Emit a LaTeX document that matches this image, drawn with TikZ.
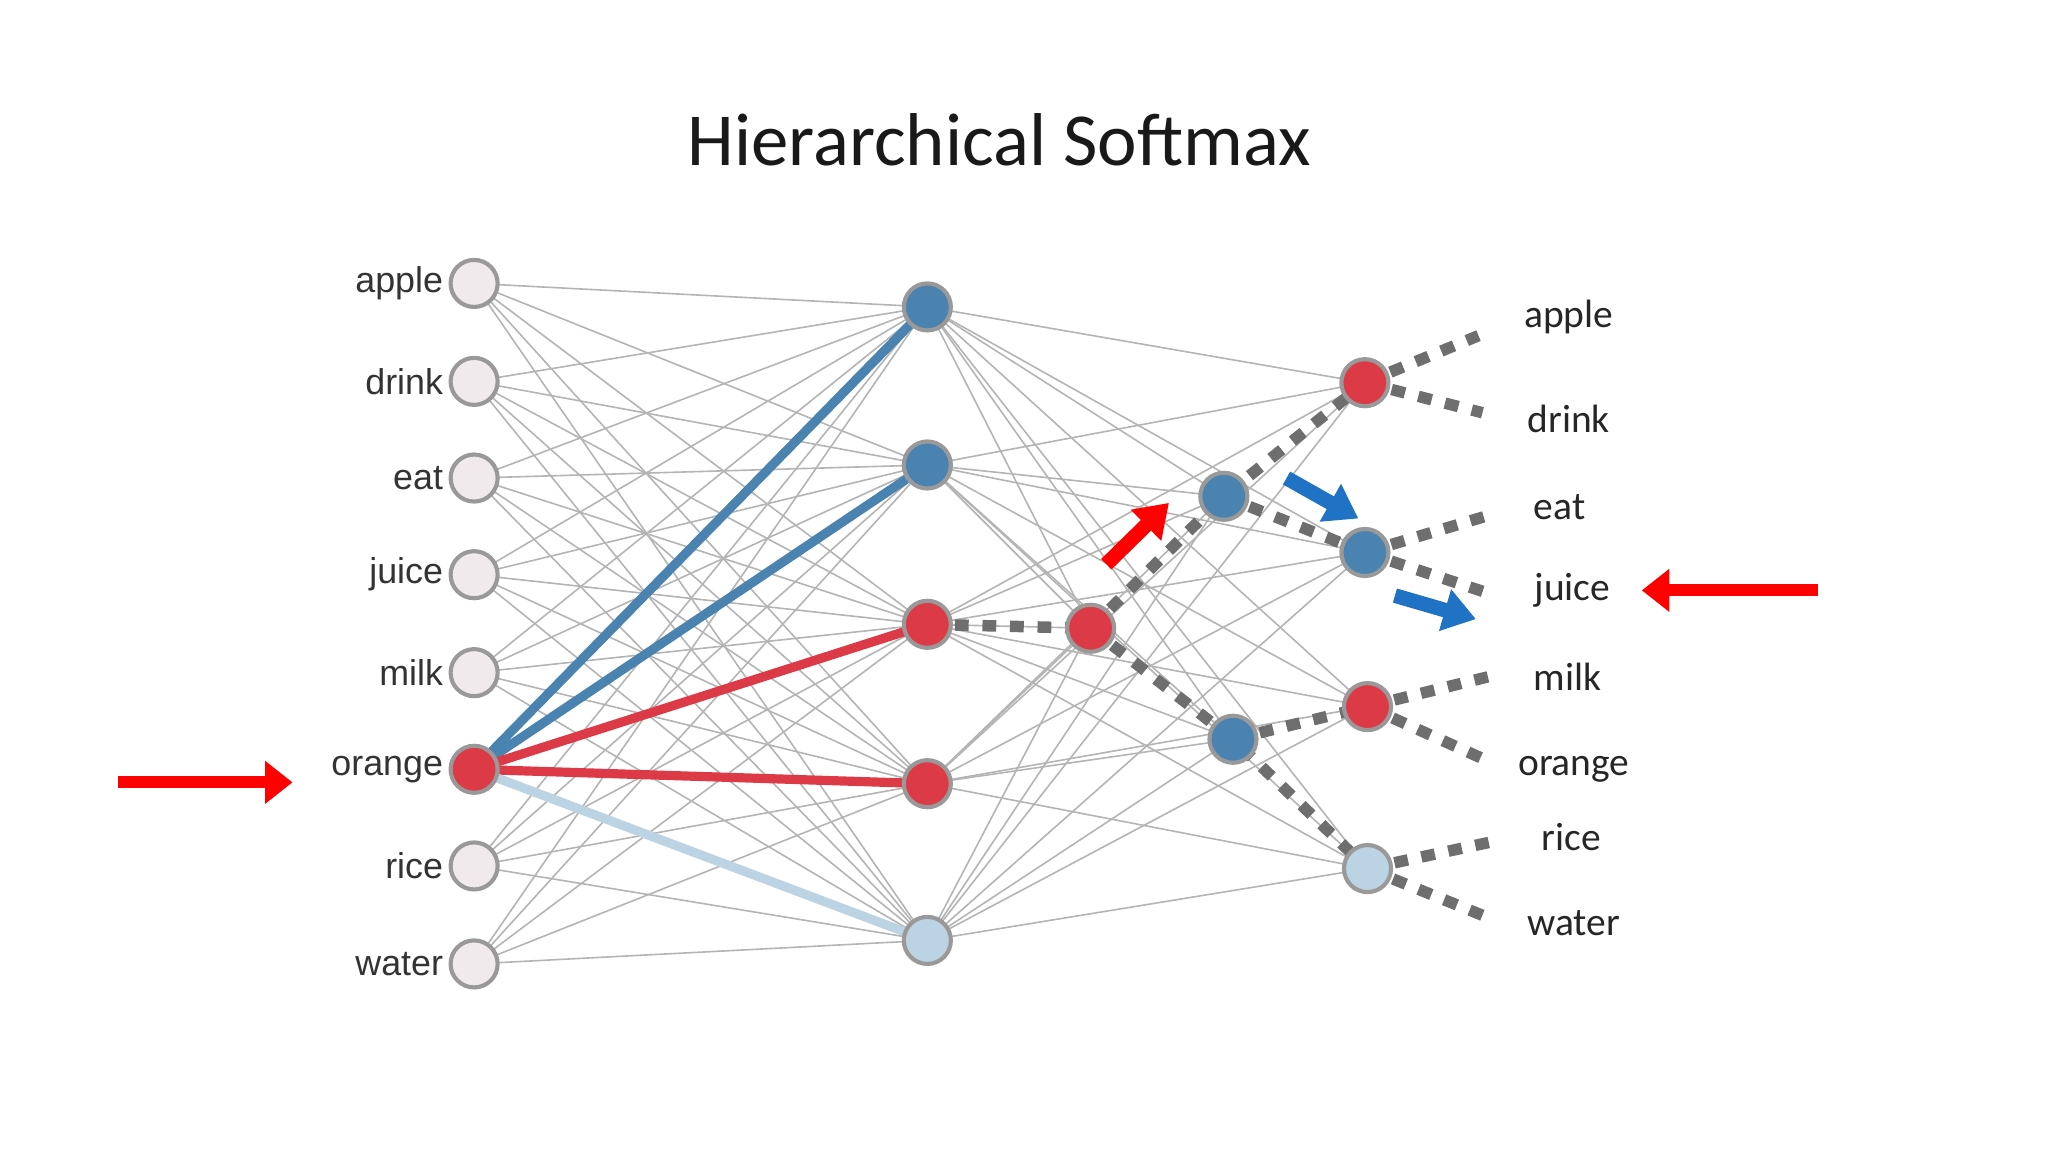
\documentclass[tikz,border=0pt]{standalone}
\usepackage{fontspec}
\setmainfont{Carlito}
\newfontfamily\arial{Liberation Sans}
\usetikzlibrary{arrows.meta}
\definecolor{nblue}{HTML}{4A83B0}
\definecolor{nred}{HTML}{DD3A48}
\definecolor{nlight}{HTML}{BCD3E4}
\definecolor{nin}{HTML}{F0EAEC}
\definecolor{lgray}{HTML}{B4B4B4}
\definecolor{dgray}{HTML}{6E6E6E}
\definecolor{abl}{HTML}{1F72C4}
\tikzset{
 nd/.style={circle,minimum size=0.36cm,inner sep=0pt,draw=gray!80,line width=0.9pt},
 conn/.style={lgray,line width=0.35pt},
 tree/.style={dgray,line width=2.5pt,dash pattern=on 3pt off 3pt},
 fat/.style={line width=3.2pt,-{Triangle[length=7pt,width=9pt]}},
 thinred/.style={red,line width=2.6pt,-{Triangle[length=6pt,width=9pt]}},
 inlab/.style={font=\arial\fontsize{7.8}{8}\selectfont,text=black!80,anchor=east,inner sep=1pt},
 outlab/.style={font=\fontsize{8.6}{9}\selectfont,text=black!85}
}
\begin{document}
\begin{tikzpicture}[x=0.01cm,y=-0.01cm]
\useasboundingbox (0,0) rectangle (1568,882);
\node[font=\fontsize{16.3}{18}\selectfont,text=black!90] (title) at (765,107) {Hierarchical Softmax};
\foreach \n/\y in {1/217,2/292,3/366,4/440,5/515,6/589,7/663,8/738}{\coordinate (i\n) at (363,\y);}
\foreach \n/\y in {1/235,2/356,3/478,4/600,5/720}{\coordinate (h\n) at (710,\y);}
\coordinate (r) at (835,481);
\coordinate (t1) at (937,380);
\coordinate (t2) at (944,566);
\coordinate (o1) at (1045,293);
\coordinate (o2) at (1045,423);
\coordinate (o3) at (1047,541);
\coordinate (o4) at (1047,665);
\foreach \i in {1,...,8}{\foreach \h in {1,...,5}{\draw[conn] (i\i) -- (h\h);}}
\foreach \h in {1,...,5}{\foreach \o in {r,t1,t2,o1,o2,o3,o4}{\draw[conn] (h\h) -- (\o);}}
\draw[nblue,line width=2pt] (i6) -- (h1);
\draw[nblue,line width=2pt] (i6) -- (h2);
\draw[nred,line width=2pt] (i6) -- (h3);
\draw[nred,line width=2pt] (i6) -- (h4);
\draw[nlight,line width=2pt] (i6) -- (h5);
\coordinate (lapple) at (1132,257);
\coordinate (ldrink) at (1135,316);
\coordinate (leat) at (1145,393);
\coordinate (ljuice) at (1142,455);
\coordinate (lmilk) at (1140,518);
\coordinate (lorange) at (1140,583);
\coordinate (lrice) at (1140,645);
\coordinate (lwater) at (1138,702);
\draw[tree] (h3) -- (r);
\draw[tree] (r) -- (t1) -- (o1);
\draw[tree] (r) -- (t2) -- (o4);
\draw[tree] (t1) -- (o2);
\draw[tree] (t2) -- (o3);
\draw[tree] (o1) -- (lapple); \draw[tree] (o1) -- (ldrink);
\draw[tree] (o2) -- (leat); \draw[tree] (o2) -- (ljuice);
\draw[tree] (o3) -- (lmilk); \draw[tree] (o3) -- (lorange);
\draw[tree] (o4) -- (lrice); \draw[tree] (o4) -- (lwater);
\foreach \n/\w in {1/apple,2/drink,3/eat,4/juice,5/milk,7/rice,8/water}{
 \node[nd,fill=nin] (ni\n) at (i\n) {};
 \node[inlab] (li\n) at (ni\n.west) {\w};
}
\node[nd,fill=nred] (ni6) at (i6) {};
\node[inlab] (li6) at (ni6.west) {orange};
\node[nd,fill=nblue] (nh1) at (h1) {};
\node[nd,fill=nblue] (nh2) at (h2) {};
\node[nd,fill=nred] (nh3) at (h3) {};
\node[nd,fill=nred] (nh4) at (h4) {};
\node[nd,fill=nlight] (nh5) at (h5) {};
\node[nd,fill=nred] (nr) at (r) {};
\node[nd,fill=nblue] (nt1) at (t1) {};
\node[nd,fill=nblue] (nt2) at (t2) {};
\node[nd,fill=nred] (no1) at (o1) {};
\node[nd,fill=nblue] (no2) at (o2) {};
\node[nd,fill=nred] (no3) at (o3) {};
\node[nd,fill=nlight] (no4) at (o4) {};
\node[outlab] (w1) at (1201,243) {apple};
\node[outlab] (w2) at (1201,321) {drink};
\node[outlab] (w3) at (1194,388) {eat};
\node[outlab] (w4) at (1204,452) {juice};
\node[outlab] (w5) at (1200,518) {milk};
\node[outlab] (w6) at (1205,589) {orange};
\node[outlab] (w7) at (1203,641) {rice};
\node[outlab] (w8) at (1205,707) {water};
\coordinate (a1s) at (90,599); \coordinate (a1e) at (224,599);
\draw[thinred] (a1s) -- (a1e);
\coordinate (a2s) at (1392,452); \coordinate (a2e) at (1257,452);
\draw[thinred] (a2s) -- (a2e);
\coordinate (a3s) at (847,432); \coordinate (a3e) at (895,385);
\draw[fat,red] (a3s) -- (a3e);
\coordinate (a4s) at (985,366); \coordinate (a4e) at (1040,397);
\draw[fat,abl] (a4s) -- (a4e);
\coordinate (a5s) at (1068,456); \coordinate (a5e) at (1130,474);
\draw[fat,abl] (a5s) -- (a5e);
\end{tikzpicture}
\end{document}
